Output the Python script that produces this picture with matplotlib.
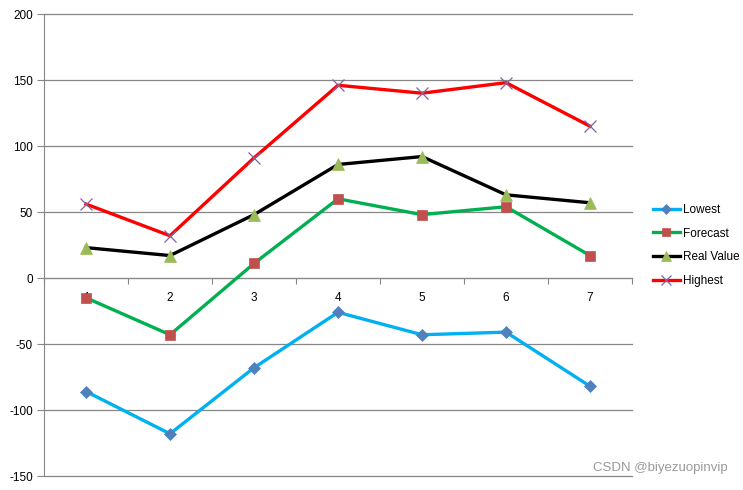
import matplotlib
matplotlib.use("Agg")
import matplotlib.pyplot as plt
from matplotlib.ticker import FixedLocator, NullFormatter

categories = ["1", "2", "3", "4", "5", "6", "7"]
lowest = [-86, -118, -68, -26, -43, -41, -82]
forecast = [-15, -43, 11, 60, 48, 54, 17]
real_value = [23, 17, 48, 86, 92, 63, 57]
highest = [56, 32, 91, 146, 140, 148, 115]
y_ticks = [-150, -100, -50, 0, 50, 100, 150, 200]

plt.rcParams['font.family'] = ['Liberation Sans', 'DejaVu Sans']
plt.rcParams['axes.unicode_minus'] = False

fig = plt.figure(figsize=(7.43, 4.90), dpi=100)
ax = fig.add_axes([44/743, 14/490, 588/743, 462/490])

x = list(range(1, len(categories) + 1))
series = [
    ("Lowest", lowest, "#00B0F0", "D", "#4F81BD", 6),
    ("Forecast", forecast, "#00B050", "s", "#C0504D", 7),
    ("Real Value", real_value, "#000000", "^", "#9BBB59", 8),
    ("Highest", highest, "#FF0000", "x", "#8064A2", 8),
]
for name, vals, lc, mk, mc, ms in series:
    ax.plot(x, vals, color=lc, lw=2.4, marker=mk, markersize=ms,
            markerfacecolor=mc, markeredgecolor=mc,
            markeredgewidth=0.9 if mk == "x" else 0.5,
            label=name, zorder=3)

ax.set_xlim(0.5, 7.5)
ax.set_ylim(-150, 200)
ax.set_yticks(y_ticks)
ax.yaxis.grid(True, color="#868686", lw=0.9)
for gl in ax.get_ygridlines():
    gl.set_clip_on(False)
ax.set_axisbelow(True)

for s in ["top", "right"]:
    ax.spines[s].set_visible(False)
ax.spines["left"].set_color("#868686")
ax.spines["bottom"].set_color("#868686")
ax.spines["bottom"].set_position(("data", 0))

ax.xaxis.set_major_locator(FixedLocator([0.5 + k for k in range(8)]))
ax.xaxis.set_major_formatter(NullFormatter())
ax.xaxis.set_minor_locator(FixedLocator(x))
ax.set_xticklabels(categories, minor=True)
ax.tick_params(axis="x", which="major", length=4, color="#868686", direction="out")
ax.tick_params(axis="x", which="minor", length=0, pad=10, labelsize=8.5)
ax.tick_params(axis="y", length=5, color="#868686", labelsize=8.5, pad=3)

leg = fig.legend(loc="upper left", bbox_to_anchor=(648/743, 1 - 199/490),
                 frameon=False, fontsize=8.5, handlelength=2.3, labelspacing=1.0,
                 handletextpad=0.25, borderaxespad=0, markerscale=0.85)

fig.text(728/743, 1 - 468/490, "CSDN @biyezuopinvip", ha="right", va="center",
         fontsize=9.5, color="#9A9A9A")

fig.savefig("out.png", dpi=100)
